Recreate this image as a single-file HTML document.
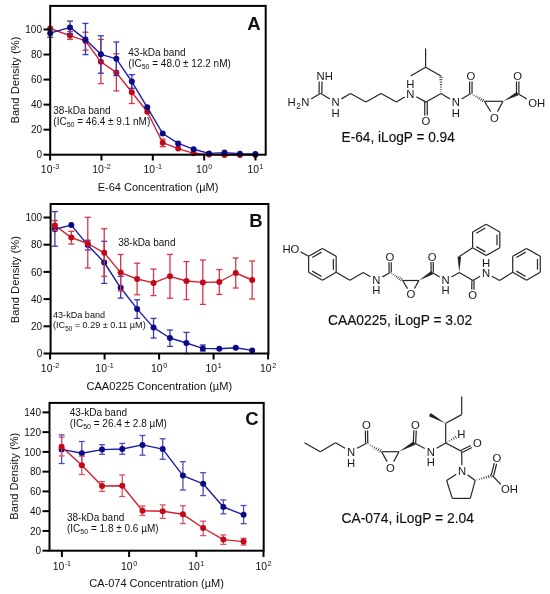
<!DOCTYPE html>
<html><head><meta charset="utf-8"><title>Figure</title>
<style>
html,body{margin:0;padding:0;background:#fff;}
svg{display:block;}
text{font-family:"Liberation Sans", Arial, sans-serif;fill:#111;}
.at{fill:#1a1a1a;}
.cap{font-size:13.8px;fill:#111;stroke:#111;stroke-width:0.15px;}
</style></head>
<body>
<svg width="550" height="594" viewBox="0 0 550 594">
<rect width="550" height="594" fill="#fff"/>
<g>
<line x1="70.00" y1="31.70" x2="70.00" y2="39.40" stroke="#d53846" stroke-width="1.3"/>
<line x1="67.00" y1="31.70" x2="73.00" y2="31.70" stroke="#d53846" stroke-width="1.3"/>
<line x1="67.00" y1="39.40" x2="73.00" y2="39.40" stroke="#d53846" stroke-width="1.3"/>
<line x1="85.45" y1="32.20" x2="85.45" y2="50.20" stroke="#d53846" stroke-width="1.3"/>
<line x1="82.45" y1="32.20" x2="88.45" y2="32.20" stroke="#d53846" stroke-width="1.3"/>
<line x1="82.45" y1="50.20" x2="88.45" y2="50.20" stroke="#d53846" stroke-width="1.3"/>
<line x1="100.90" y1="39.40" x2="100.90" y2="83.60" stroke="#d53846" stroke-width="1.3"/>
<line x1="97.90" y1="39.40" x2="103.90" y2="39.40" stroke="#d53846" stroke-width="1.3"/>
<line x1="97.90" y1="83.60" x2="103.90" y2="83.60" stroke="#d53846" stroke-width="1.3"/>
<line x1="116.35" y1="53.80" x2="116.35" y2="90.90" stroke="#d53846" stroke-width="1.3"/>
<line x1="113.35" y1="53.80" x2="119.35" y2="53.80" stroke="#d53846" stroke-width="1.3"/>
<line x1="113.35" y1="90.90" x2="119.35" y2="90.90" stroke="#d53846" stroke-width="1.3"/>
<line x1="131.80" y1="81.00" x2="131.80" y2="103.50" stroke="#d53846" stroke-width="1.3"/>
<line x1="128.80" y1="81.00" x2="134.80" y2="81.00" stroke="#d53846" stroke-width="1.3"/>
<line x1="128.80" y1="103.50" x2="134.80" y2="103.50" stroke="#d53846" stroke-width="1.3"/>
<line x1="162.70" y1="139.10" x2="162.70" y2="146.70" stroke="#d53846" stroke-width="1.3"/>
<line x1="159.70" y1="139.10" x2="165.70" y2="139.10" stroke="#d53846" stroke-width="1.3"/>
<line x1="159.70" y1="146.70" x2="165.70" y2="146.70" stroke="#d53846" stroke-width="1.3"/>
<polyline points="50.20,28.50 70.00,35.60 85.45,40.90 100.90,61.80 116.35,72.60 131.80,92.30 147.25,111.70 162.70,142.70 178.15,148.60 193.60,153.30 209.05,154.50 224.50,155.10 239.95,155.10 255.40,155.00" fill="none" stroke="#d42030" stroke-width="1.4" stroke-linejoin="round"/>
<circle cx="50.20" cy="28.50" r="3.0" fill="#c4081a"/>
<circle cx="70.00" cy="35.60" r="3.0" fill="#c4081a"/>
<circle cx="85.45" cy="40.90" r="3.0" fill="#c4081a"/>
<circle cx="100.90" cy="61.80" r="3.0" fill="#c4081a"/>
<circle cx="116.35" cy="72.60" r="3.0" fill="#c4081a"/>
<circle cx="131.80" cy="92.30" r="3.0" fill="#c4081a"/>
<circle cx="147.25" cy="111.70" r="3.0" fill="#c4081a"/>
<circle cx="162.70" cy="142.70" r="3.0" fill="#c4081a"/>
<circle cx="178.15" cy="148.60" r="3.0" fill="#c4081a"/>
<circle cx="193.60" cy="153.30" r="3.0" fill="#c4081a"/>
<circle cx="209.05" cy="154.50" r="3.0" fill="#c4081a"/>
<circle cx="224.50" cy="155.10" r="3.0" fill="#c4081a"/>
<circle cx="239.95" cy="155.10" r="3.0" fill="#c4081a"/>
<circle cx="255.40" cy="155.00" r="3.0" fill="#c4081a"/>
<line x1="50.20" y1="29.20" x2="50.20" y2="37.20" stroke="#3a3aac" stroke-width="1.3"/>
<line x1="47.20" y1="29.20" x2="53.20" y2="29.20" stroke="#3a3aac" stroke-width="1.3"/>
<line x1="47.20" y1="37.20" x2="53.20" y2="37.20" stroke="#3a3aac" stroke-width="1.3"/>
<line x1="70.00" y1="21.10" x2="70.00" y2="33.70" stroke="#3a3aac" stroke-width="1.3"/>
<line x1="67.00" y1="21.10" x2="73.00" y2="21.10" stroke="#3a3aac" stroke-width="1.3"/>
<line x1="67.00" y1="33.70" x2="73.00" y2="33.70" stroke="#3a3aac" stroke-width="1.3"/>
<line x1="85.45" y1="23.40" x2="85.45" y2="54.60" stroke="#3a3aac" stroke-width="1.3"/>
<line x1="82.45" y1="23.40" x2="88.45" y2="23.40" stroke="#3a3aac" stroke-width="1.3"/>
<line x1="82.45" y1="54.60" x2="88.45" y2="54.60" stroke="#3a3aac" stroke-width="1.3"/>
<line x1="100.90" y1="35.80" x2="100.90" y2="73.20" stroke="#3a3aac" stroke-width="1.3"/>
<line x1="97.90" y1="35.80" x2="103.90" y2="35.80" stroke="#3a3aac" stroke-width="1.3"/>
<line x1="97.90" y1="73.20" x2="103.90" y2="73.20" stroke="#3a3aac" stroke-width="1.3"/>
<line x1="116.35" y1="42.00" x2="116.35" y2="75.60" stroke="#3a3aac" stroke-width="1.3"/>
<line x1="113.35" y1="42.00" x2="119.35" y2="42.00" stroke="#3a3aac" stroke-width="1.3"/>
<line x1="113.35" y1="75.60" x2="119.35" y2="75.60" stroke="#3a3aac" stroke-width="1.3"/>
<line x1="131.80" y1="74.70" x2="131.80" y2="88.30" stroke="#3a3aac" stroke-width="1.3"/>
<line x1="128.80" y1="74.70" x2="134.80" y2="74.70" stroke="#3a3aac" stroke-width="1.3"/>
<line x1="128.80" y1="88.30" x2="134.80" y2="88.30" stroke="#3a3aac" stroke-width="1.3"/>
<polyline points="50.20,33.20 70.00,27.40 85.45,39.40 100.90,54.30 116.35,58.80 131.80,81.60 147.25,107.30 162.70,133.50 178.15,143.40 193.60,149.20 209.05,153.40 224.50,152.60 239.95,153.80 255.40,154.10" fill="none" stroke="#1c1ca6" stroke-width="1.4" stroke-linejoin="round"/>
<circle cx="50.20" cy="33.20" r="3.0" fill="#0a0a88"/>
<circle cx="70.00" cy="27.40" r="3.0" fill="#0a0a88"/>
<circle cx="85.45" cy="39.40" r="3.0" fill="#0a0a88"/>
<circle cx="100.90" cy="54.30" r="3.0" fill="#0a0a88"/>
<circle cx="116.35" cy="58.80" r="3.0" fill="#0a0a88"/>
<circle cx="131.80" cy="81.60" r="3.0" fill="#0a0a88"/>
<circle cx="147.25" cy="107.30" r="3.0" fill="#0a0a88"/>
<circle cx="162.70" cy="133.50" r="3.0" fill="#0a0a88"/>
<circle cx="178.15" cy="143.40" r="3.0" fill="#0a0a88"/>
<circle cx="193.60" cy="149.20" r="3.0" fill="#0a0a88"/>
<circle cx="209.05" cy="153.40" r="3.0" fill="#0a0a88"/>
<circle cx="224.50" cy="152.60" r="3.0" fill="#0a0a88"/>
<circle cx="239.95" cy="153.80" r="3.0" fill="#0a0a88"/>
<circle cx="255.40" cy="154.10" r="3.0" fill="#0a0a88"/>
<rect x="50.2" y="5.9" width="215.5" height="148.79999999999998" fill="none" stroke="#000" stroke-width="2"/>
<line x1="43.5" y1="154.70" x2="50.2" y2="154.70" stroke="#000" stroke-width="2"/>
<text x="42" y="158.30" text-anchor="end" font-size="10">0</text>
<line x1="43.5" y1="129.66" x2="50.2" y2="129.66" stroke="#000" stroke-width="2"/>
<text x="42" y="133.26" text-anchor="end" font-size="10">20</text>
<line x1="43.5" y1="104.62" x2="50.2" y2="104.62" stroke="#000" stroke-width="2"/>
<text x="42" y="108.22" text-anchor="end" font-size="10">40</text>
<line x1="43.5" y1="79.58" x2="50.2" y2="79.58" stroke="#000" stroke-width="2"/>
<text x="42" y="83.18" text-anchor="end" font-size="10">60</text>
<line x1="43.5" y1="54.54" x2="50.2" y2="54.54" stroke="#000" stroke-width="2"/>
<text x="42" y="58.14" text-anchor="end" font-size="10">80</text>
<line x1="43.5" y1="29.50" x2="50.2" y2="29.50" stroke="#000" stroke-width="2"/>
<text x="42" y="33.10" text-anchor="end" font-size="10">100</text>
<line x1="50.10" y1="154.7" x2="50.10" y2="160.5" stroke="#000" stroke-width="2"/>
<text x="50.10" y="173.3" text-anchor="middle" font-size="10.4">10<tspan font-size="7.2" dx="0.5" dy="-3.9">-3</tspan></text>
<line x1="101.45" y1="154.7" x2="101.45" y2="160.5" stroke="#000" stroke-width="2"/>
<text x="101.45" y="173.3" text-anchor="middle" font-size="10.4">10<tspan font-size="7.2" dx="0.5" dy="-3.9">-2</tspan></text>
<line x1="152.80" y1="154.7" x2="152.80" y2="160.5" stroke="#000" stroke-width="2"/>
<text x="152.80" y="173.3" text-anchor="middle" font-size="10.4">10<tspan font-size="7.2" dx="0.5" dy="-3.9">-1</tspan></text>
<line x1="204.15" y1="154.7" x2="204.15" y2="160.5" stroke="#000" stroke-width="2"/>
<text x="204.15" y="173.3" text-anchor="middle" font-size="10.4">10<tspan font-size="7.2" dx="0.5" dy="-3.9">0</tspan></text>
<line x1="255.50" y1="154.7" x2="255.50" y2="160.5" stroke="#000" stroke-width="2"/>
<text x="255.50" y="173.3" text-anchor="middle" font-size="10.4">10<tspan font-size="7.2" dx="0.5" dy="-3.9">1</tspan></text>
<text transform="translate(19.3,80.05) rotate(-90)" text-anchor="middle" font-size="11.2">Band Density (%)</text>
<text x="158" y="190.8" text-anchor="middle" font-size="11">E-64 Concentration (µM)</text>
<text x="254" y="29.5" text-anchor="middle" font-size="18.5" font-weight="bold">A</text>
<text x="128.3" y="55.7" font-size="10.0">43-kDa band</text><text x="128.3" y="66.5" font-size="10.0">(IC<tspan font-size="7.00" dy="2.2">50</tspan><tspan dy="-2.2"> = 48.0 ± 12.2 nM)</tspan></text>
<text x="53.3" y="114.2" font-size="10.0">38-kDa band</text><text x="53.3" y="125.0" font-size="10.0">(IC<tspan font-size="7.00" dy="2.2">50</tspan><tspan dy="-2.2"> = 46.4 ± 9.1 nM)</tspan></text>
</g>
<g>
<line x1="54.90" y1="211.60" x2="54.90" y2="246.20" stroke="#3a3aac" stroke-width="1.3"/>
<line x1="51.90" y1="211.60" x2="57.90" y2="211.60" stroke="#3a3aac" stroke-width="1.3"/>
<line x1="51.90" y1="246.20" x2="57.90" y2="246.20" stroke="#3a3aac" stroke-width="1.3"/>
<line x1="87.78" y1="240.20" x2="87.78" y2="250.00" stroke="#3a3aac" stroke-width="1.3"/>
<line x1="84.78" y1="240.20" x2="90.78" y2="240.20" stroke="#3a3aac" stroke-width="1.3"/>
<line x1="84.78" y1="250.00" x2="90.78" y2="250.00" stroke="#3a3aac" stroke-width="1.3"/>
<line x1="104.22" y1="241.30" x2="104.22" y2="283.40" stroke="#3a3aac" stroke-width="1.3"/>
<line x1="101.22" y1="241.30" x2="107.22" y2="241.30" stroke="#3a3aac" stroke-width="1.3"/>
<line x1="101.22" y1="283.40" x2="107.22" y2="283.40" stroke="#3a3aac" stroke-width="1.3"/>
<line x1="120.66" y1="276.30" x2="120.66" y2="298.10" stroke="#3a3aac" stroke-width="1.3"/>
<line x1="117.66" y1="276.30" x2="123.66" y2="276.30" stroke="#3a3aac" stroke-width="1.3"/>
<line x1="117.66" y1="298.10" x2="123.66" y2="298.10" stroke="#3a3aac" stroke-width="1.3"/>
<line x1="137.10" y1="299.80" x2="137.10" y2="318.40" stroke="#3a3aac" stroke-width="1.3"/>
<line x1="134.10" y1="299.80" x2="140.10" y2="299.80" stroke="#3a3aac" stroke-width="1.3"/>
<line x1="134.10" y1="318.40" x2="140.10" y2="318.40" stroke="#3a3aac" stroke-width="1.3"/>
<line x1="153.54" y1="318.40" x2="153.54" y2="338.00" stroke="#3a3aac" stroke-width="1.3"/>
<line x1="150.54" y1="318.40" x2="156.54" y2="318.40" stroke="#3a3aac" stroke-width="1.3"/>
<line x1="150.54" y1="338.00" x2="156.54" y2="338.00" stroke="#3a3aac" stroke-width="1.3"/>
<line x1="169.98" y1="330.00" x2="169.98" y2="346.40" stroke="#3a3aac" stroke-width="1.3"/>
<line x1="166.98" y1="330.00" x2="172.98" y2="330.00" stroke="#3a3aac" stroke-width="1.3"/>
<line x1="166.98" y1="346.40" x2="172.98" y2="346.40" stroke="#3a3aac" stroke-width="1.3"/>
<line x1="186.42" y1="332.40" x2="186.42" y2="353.60" stroke="#3a3aac" stroke-width="1.3"/>
<line x1="183.42" y1="332.40" x2="189.42" y2="332.40" stroke="#3a3aac" stroke-width="1.3"/>
<line x1="183.42" y1="353.60" x2="189.42" y2="353.60" stroke="#3a3aac" stroke-width="1.3"/>
<line x1="202.86" y1="345.00" x2="202.86" y2="351.00" stroke="#3a3aac" stroke-width="1.3"/>
<line x1="199.86" y1="345.00" x2="205.86" y2="345.00" stroke="#3a3aac" stroke-width="1.3"/>
<line x1="199.86" y1="351.00" x2="205.86" y2="351.00" stroke="#3a3aac" stroke-width="1.3"/>
<polyline points="54.90,229.20 71.34,225.10 87.78,245.10 104.22,262.50 120.66,287.80 137.10,308.90 153.54,327.60 169.98,338.00 186.42,343.00 202.86,348.40 219.30,348.80 235.74,347.70 252.18,350.40" fill="none" stroke="#1c1ca6" stroke-width="1.4" stroke-linejoin="round"/>
<circle cx="54.90" cy="229.20" r="3.0" fill="#0a0a88"/>
<circle cx="71.34" cy="225.10" r="3.0" fill="#0a0a88"/>
<circle cx="87.78" cy="245.10" r="3.0" fill="#0a0a88"/>
<circle cx="104.22" cy="262.50" r="3.0" fill="#0a0a88"/>
<circle cx="120.66" cy="287.80" r="3.0" fill="#0a0a88"/>
<circle cx="137.10" cy="308.90" r="3.0" fill="#0a0a88"/>
<circle cx="153.54" cy="327.60" r="3.0" fill="#0a0a88"/>
<circle cx="169.98" cy="338.00" r="3.0" fill="#0a0a88"/>
<circle cx="186.42" cy="343.00" r="3.0" fill="#0a0a88"/>
<circle cx="202.86" cy="348.40" r="3.0" fill="#0a0a88"/>
<circle cx="219.30" cy="348.80" r="3.0" fill="#0a0a88"/>
<circle cx="235.74" cy="347.70" r="3.0" fill="#0a0a88"/>
<circle cx="252.18" cy="350.40" r="3.0" fill="#0a0a88"/>
<line x1="54.90" y1="220.50" x2="54.90" y2="230.50" stroke="#d53846" stroke-width="1.3"/>
<line x1="51.90" y1="220.50" x2="57.90" y2="220.50" stroke="#d53846" stroke-width="1.3"/>
<line x1="51.90" y1="230.50" x2="57.90" y2="230.50" stroke="#d53846" stroke-width="1.3"/>
<line x1="71.34" y1="231.30" x2="71.34" y2="244.00" stroke="#d53846" stroke-width="1.3"/>
<line x1="68.34" y1="231.30" x2="74.34" y2="231.30" stroke="#d53846" stroke-width="1.3"/>
<line x1="68.34" y1="244.00" x2="74.34" y2="244.00" stroke="#d53846" stroke-width="1.3"/>
<line x1="87.78" y1="217.30" x2="87.78" y2="268.00" stroke="#d53846" stroke-width="1.3"/>
<line x1="84.78" y1="217.30" x2="90.78" y2="217.30" stroke="#d53846" stroke-width="1.3"/>
<line x1="84.78" y1="268.00" x2="90.78" y2="268.00" stroke="#d53846" stroke-width="1.3"/>
<line x1="104.22" y1="228.70" x2="104.22" y2="276.30" stroke="#d53846" stroke-width="1.3"/>
<line x1="101.22" y1="228.70" x2="107.22" y2="228.70" stroke="#d53846" stroke-width="1.3"/>
<line x1="101.22" y1="276.30" x2="107.22" y2="276.30" stroke="#d53846" stroke-width="1.3"/>
<line x1="120.66" y1="254.50" x2="120.66" y2="291.00" stroke="#d53846" stroke-width="1.3"/>
<line x1="117.66" y1="254.50" x2="123.66" y2="254.50" stroke="#d53846" stroke-width="1.3"/>
<line x1="117.66" y1="291.00" x2="123.66" y2="291.00" stroke="#d53846" stroke-width="1.3"/>
<line x1="137.10" y1="263.20" x2="137.10" y2="294.80" stroke="#d53846" stroke-width="1.3"/>
<line x1="134.10" y1="263.20" x2="140.10" y2="263.20" stroke="#d53846" stroke-width="1.3"/>
<line x1="134.10" y1="294.80" x2="140.10" y2="294.80" stroke="#d53846" stroke-width="1.3"/>
<line x1="153.54" y1="269.10" x2="153.54" y2="295.60" stroke="#d53846" stroke-width="1.3"/>
<line x1="150.54" y1="269.10" x2="156.54" y2="269.10" stroke="#d53846" stroke-width="1.3"/>
<line x1="150.54" y1="295.60" x2="156.54" y2="295.60" stroke="#d53846" stroke-width="1.3"/>
<line x1="169.98" y1="254.40" x2="169.98" y2="298.20" stroke="#d53846" stroke-width="1.3"/>
<line x1="166.98" y1="254.40" x2="172.98" y2="254.40" stroke="#d53846" stroke-width="1.3"/>
<line x1="166.98" y1="298.20" x2="172.98" y2="298.20" stroke="#d53846" stroke-width="1.3"/>
<line x1="186.42" y1="261.60" x2="186.42" y2="299.60" stroke="#d53846" stroke-width="1.3"/>
<line x1="183.42" y1="261.60" x2="189.42" y2="261.60" stroke="#d53846" stroke-width="1.3"/>
<line x1="183.42" y1="299.60" x2="189.42" y2="299.60" stroke="#d53846" stroke-width="1.3"/>
<line x1="202.86" y1="260.00" x2="202.86" y2="304.40" stroke="#d53846" stroke-width="1.3"/>
<line x1="199.86" y1="260.00" x2="205.86" y2="260.00" stroke="#d53846" stroke-width="1.3"/>
<line x1="199.86" y1="304.40" x2="205.86" y2="304.40" stroke="#d53846" stroke-width="1.3"/>
<line x1="219.30" y1="269.60" x2="219.30" y2="294.40" stroke="#d53846" stroke-width="1.3"/>
<line x1="216.30" y1="269.60" x2="222.30" y2="269.60" stroke="#d53846" stroke-width="1.3"/>
<line x1="216.30" y1="294.40" x2="222.30" y2="294.40" stroke="#d53846" stroke-width="1.3"/>
<line x1="235.74" y1="258.00" x2="235.74" y2="288.00" stroke="#d53846" stroke-width="1.3"/>
<line x1="232.74" y1="258.00" x2="238.74" y2="258.00" stroke="#d53846" stroke-width="1.3"/>
<line x1="232.74" y1="288.00" x2="238.74" y2="288.00" stroke="#d53846" stroke-width="1.3"/>
<line x1="252.18" y1="261.00" x2="252.18" y2="299.00" stroke="#d53846" stroke-width="1.3"/>
<line x1="249.18" y1="261.00" x2="255.18" y2="261.00" stroke="#d53846" stroke-width="1.3"/>
<line x1="249.18" y1="299.00" x2="255.18" y2="299.00" stroke="#d53846" stroke-width="1.3"/>
<polyline points="54.90,225.50 71.34,237.60 87.78,243.50 104.22,252.80 120.66,272.60 137.10,279.00 153.54,282.90 169.98,276.30 186.42,281.00 202.86,282.40 219.30,282.00 235.74,273.00 252.18,280.00" fill="none" stroke="#d42030" stroke-width="1.4" stroke-linejoin="round"/>
<circle cx="54.90" cy="225.50" r="3.0" fill="#c4081a"/>
<circle cx="71.34" cy="237.60" r="3.0" fill="#c4081a"/>
<circle cx="87.78" cy="243.50" r="3.0" fill="#c4081a"/>
<circle cx="104.22" cy="252.80" r="3.0" fill="#c4081a"/>
<circle cx="120.66" cy="272.60" r="3.0" fill="#c4081a"/>
<circle cx="137.10" cy="279.00" r="3.0" fill="#c4081a"/>
<circle cx="153.54" cy="282.90" r="3.0" fill="#c4081a"/>
<circle cx="169.98" cy="276.30" r="3.0" fill="#c4081a"/>
<circle cx="186.42" cy="281.00" r="3.0" fill="#c4081a"/>
<circle cx="202.86" cy="282.40" r="3.0" fill="#c4081a"/>
<circle cx="219.30" cy="282.00" r="3.0" fill="#c4081a"/>
<circle cx="235.74" cy="273.00" r="3.0" fill="#c4081a"/>
<circle cx="252.18" cy="280.00" r="3.0" fill="#c4081a"/>
<rect x="50.6" y="204" width="217.79999999999998" height="149.5" fill="none" stroke="#000" stroke-width="2"/>
<line x1="43.5" y1="353.50" x2="50.6" y2="353.50" stroke="#000" stroke-width="2"/>
<text x="42.2" y="357.10" text-anchor="end" font-size="10">0</text>
<line x1="43.5" y1="326.30" x2="50.6" y2="326.30" stroke="#000" stroke-width="2"/>
<text x="42.2" y="329.90" text-anchor="end" font-size="10">20</text>
<line x1="43.5" y1="299.10" x2="50.6" y2="299.10" stroke="#000" stroke-width="2"/>
<text x="42.2" y="302.70" text-anchor="end" font-size="10">40</text>
<line x1="43.5" y1="271.90" x2="50.6" y2="271.90" stroke="#000" stroke-width="2"/>
<text x="42.2" y="275.50" text-anchor="end" font-size="10">60</text>
<line x1="43.5" y1="244.70" x2="50.6" y2="244.70" stroke="#000" stroke-width="2"/>
<text x="42.2" y="248.30" text-anchor="end" font-size="10">80</text>
<line x1="43.5" y1="217.50" x2="50.6" y2="217.50" stroke="#000" stroke-width="2"/>
<text x="42.2" y="221.10" text-anchor="end" font-size="10">100</text>
<line x1="50.10" y1="353.5" x2="50.10" y2="359.5" stroke="#000" stroke-width="2"/>
<text x="50.10" y="371.8" text-anchor="middle" font-size="10.4">10<tspan font-size="7.2" dx="0.5" dy="-3.9">-2</tspan></text>
<line x1="104.60" y1="353.5" x2="104.60" y2="359.5" stroke="#000" stroke-width="2"/>
<text x="104.60" y="371.8" text-anchor="middle" font-size="10.4">10<tspan font-size="7.2" dx="0.5" dy="-3.9">-1</tspan></text>
<line x1="159.10" y1="353.5" x2="159.10" y2="359.5" stroke="#000" stroke-width="2"/>
<text x="159.10" y="371.8" text-anchor="middle" font-size="10.4">10<tspan font-size="7.2" dx="0.5" dy="-3.9">0</tspan></text>
<line x1="213.60" y1="353.5" x2="213.60" y2="359.5" stroke="#000" stroke-width="2"/>
<text x="213.60" y="371.8" text-anchor="middle" font-size="10.4">10<tspan font-size="7.2" dx="0.5" dy="-3.9">1</tspan></text>
<line x1="268.10" y1="353.5" x2="268.10" y2="359.5" stroke="#000" stroke-width="2"/>
<text x="268.10" y="371.8" text-anchor="middle" font-size="10.4">10<tspan font-size="7.2" dx="0.5" dy="-3.9">2</tspan></text>
<text transform="translate(19.0,279.6) rotate(-90)" text-anchor="middle" font-size="11.2">Band Density (%)</text>
<text x="159.3" y="389.7" text-anchor="middle" font-size="11.1">CAA0225 Concentration (µM)</text>
<text x="256" y="227" text-anchor="middle" font-size="18.5" font-weight="bold">B</text>
<text x="118.2" y="245.7" font-size="10">38-kDa band</text>
<text x="53" y="318" font-size="9.1">43-kDa band</text><text x="53" y="328.4" font-size="9.1">(IC<tspan font-size="6.37" dy="2.2">50</tspan><tspan dy="-2.2"> = 0.29 ± 0.11 µM)</tspan></text>
</g>
<g>
<line x1="61.60" y1="434.90" x2="61.60" y2="463.50" stroke="#4e4eb4" stroke-width="1.3"/>
<line x1="58.60" y1="434.90" x2="64.60" y2="434.90" stroke="#4e4eb4" stroke-width="1.3"/>
<line x1="58.60" y1="463.50" x2="64.60" y2="463.50" stroke="#4e4eb4" stroke-width="1.3"/>
<line x1="81.82" y1="441.50" x2="81.82" y2="465.00" stroke="#4e4eb4" stroke-width="1.3"/>
<line x1="78.82" y1="441.50" x2="84.82" y2="441.50" stroke="#4e4eb4" stroke-width="1.3"/>
<line x1="78.82" y1="465.00" x2="84.82" y2="465.00" stroke="#4e4eb4" stroke-width="1.3"/>
<line x1="102.04" y1="444.70" x2="102.04" y2="454.30" stroke="#4e4eb4" stroke-width="1.3"/>
<line x1="99.04" y1="444.70" x2="105.04" y2="444.70" stroke="#4e4eb4" stroke-width="1.3"/>
<line x1="99.04" y1="454.30" x2="105.04" y2="454.30" stroke="#4e4eb4" stroke-width="1.3"/>
<line x1="122.26" y1="443.40" x2="122.26" y2="454.30" stroke="#4e4eb4" stroke-width="1.3"/>
<line x1="119.26" y1="443.40" x2="125.26" y2="443.40" stroke="#4e4eb4" stroke-width="1.3"/>
<line x1="119.26" y1="454.30" x2="125.26" y2="454.30" stroke="#4e4eb4" stroke-width="1.3"/>
<line x1="142.48" y1="435.50" x2="142.48" y2="455.20" stroke="#4e4eb4" stroke-width="1.3"/>
<line x1="139.48" y1="435.50" x2="145.48" y2="435.50" stroke="#4e4eb4" stroke-width="1.3"/>
<line x1="139.48" y1="455.20" x2="145.48" y2="455.20" stroke="#4e4eb4" stroke-width="1.3"/>
<line x1="162.70" y1="438.80" x2="162.70" y2="459.30" stroke="#4e4eb4" stroke-width="1.3"/>
<line x1="159.70" y1="438.80" x2="165.70" y2="438.80" stroke="#4e4eb4" stroke-width="1.3"/>
<line x1="159.70" y1="459.30" x2="165.70" y2="459.30" stroke="#4e4eb4" stroke-width="1.3"/>
<line x1="182.92" y1="461.70" x2="182.92" y2="490.00" stroke="#4e4eb4" stroke-width="1.3"/>
<line x1="179.92" y1="461.70" x2="185.92" y2="461.70" stroke="#4e4eb4" stroke-width="1.3"/>
<line x1="179.92" y1="490.00" x2="185.92" y2="490.00" stroke="#4e4eb4" stroke-width="1.3"/>
<line x1="203.14" y1="472.70" x2="203.14" y2="495.60" stroke="#4e4eb4" stroke-width="1.3"/>
<line x1="200.14" y1="472.70" x2="206.14" y2="472.70" stroke="#4e4eb4" stroke-width="1.3"/>
<line x1="200.14" y1="495.60" x2="206.14" y2="495.60" stroke="#4e4eb4" stroke-width="1.3"/>
<line x1="223.36" y1="499.90" x2="223.36" y2="513.80" stroke="#4e4eb4" stroke-width="1.3"/>
<line x1="220.36" y1="499.90" x2="226.36" y2="499.90" stroke="#4e4eb4" stroke-width="1.3"/>
<line x1="220.36" y1="513.80" x2="226.36" y2="513.80" stroke="#4e4eb4" stroke-width="1.3"/>
<line x1="243.58" y1="505.50" x2="243.58" y2="523.70" stroke="#4e4eb4" stroke-width="1.3"/>
<line x1="240.58" y1="505.50" x2="246.58" y2="505.50" stroke="#4e4eb4" stroke-width="1.3"/>
<line x1="240.58" y1="523.70" x2="246.58" y2="523.70" stroke="#4e4eb4" stroke-width="1.3"/>
<polyline points="61.60,449.40 81.82,453.20 102.04,449.60 122.26,449.00 142.48,444.90 162.70,449.10 182.92,475.60 203.14,483.80 223.36,507.00 243.58,514.80" fill="none" stroke="#1c1ca6" stroke-width="1.4" stroke-linejoin="round"/>
<circle cx="61.60" cy="449.40" r="3.0" fill="#0a0a88"/>
<circle cx="81.82" cy="453.20" r="3.0" fill="#0a0a88"/>
<circle cx="102.04" cy="449.60" r="3.0" fill="#0a0a88"/>
<circle cx="122.26" cy="449.00" r="3.0" fill="#0a0a88"/>
<circle cx="142.48" cy="444.90" r="3.0" fill="#0a0a88"/>
<circle cx="162.70" cy="449.10" r="3.0" fill="#0a0a88"/>
<circle cx="182.92" cy="475.60" r="3.0" fill="#0a0a88"/>
<circle cx="203.14" cy="483.80" r="3.0" fill="#0a0a88"/>
<circle cx="223.36" cy="507.00" r="3.0" fill="#0a0a88"/>
<circle cx="243.58" cy="514.80" r="3.0" fill="#0a0a88"/>
<line x1="61.60" y1="437.20" x2="61.60" y2="455.90" stroke="#da5260" stroke-width="1.3"/>
<line x1="58.60" y1="437.20" x2="64.60" y2="437.20" stroke="#da5260" stroke-width="1.3"/>
<line x1="58.60" y1="455.90" x2="64.60" y2="455.90" stroke="#da5260" stroke-width="1.3"/>
<line x1="81.82" y1="456.20" x2="81.82" y2="474.50" stroke="#da5260" stroke-width="1.3"/>
<line x1="78.82" y1="456.20" x2="84.82" y2="456.20" stroke="#da5260" stroke-width="1.3"/>
<line x1="78.82" y1="474.50" x2="84.82" y2="474.50" stroke="#da5260" stroke-width="1.3"/>
<line x1="102.04" y1="481.60" x2="102.04" y2="491.40" stroke="#da5260" stroke-width="1.3"/>
<line x1="99.04" y1="481.60" x2="105.04" y2="481.60" stroke="#da5260" stroke-width="1.3"/>
<line x1="99.04" y1="491.40" x2="105.04" y2="491.40" stroke="#da5260" stroke-width="1.3"/>
<line x1="122.26" y1="474.90" x2="122.26" y2="496.50" stroke="#da5260" stroke-width="1.3"/>
<line x1="119.26" y1="474.90" x2="125.26" y2="474.90" stroke="#da5260" stroke-width="1.3"/>
<line x1="119.26" y1="496.50" x2="125.26" y2="496.50" stroke="#da5260" stroke-width="1.3"/>
<line x1="142.48" y1="506.00" x2="142.48" y2="515.50" stroke="#da5260" stroke-width="1.3"/>
<line x1="139.48" y1="506.00" x2="145.48" y2="506.00" stroke="#da5260" stroke-width="1.3"/>
<line x1="139.48" y1="515.50" x2="145.48" y2="515.50" stroke="#da5260" stroke-width="1.3"/>
<line x1="162.70" y1="504.90" x2="162.70" y2="518.40" stroke="#da5260" stroke-width="1.3"/>
<line x1="159.70" y1="504.90" x2="165.70" y2="504.90" stroke="#da5260" stroke-width="1.3"/>
<line x1="159.70" y1="518.40" x2="165.70" y2="518.40" stroke="#da5260" stroke-width="1.3"/>
<line x1="182.92" y1="505.80" x2="182.92" y2="523.60" stroke="#da5260" stroke-width="1.3"/>
<line x1="179.92" y1="505.80" x2="185.92" y2="505.80" stroke="#da5260" stroke-width="1.3"/>
<line x1="179.92" y1="523.60" x2="185.92" y2="523.60" stroke="#da5260" stroke-width="1.3"/>
<line x1="203.14" y1="521.20" x2="203.14" y2="535.60" stroke="#da5260" stroke-width="1.3"/>
<line x1="200.14" y1="521.20" x2="206.14" y2="521.20" stroke="#da5260" stroke-width="1.3"/>
<line x1="200.14" y1="535.60" x2="206.14" y2="535.60" stroke="#da5260" stroke-width="1.3"/>
<line x1="223.36" y1="534.90" x2="223.36" y2="544.40" stroke="#da5260" stroke-width="1.3"/>
<line x1="220.36" y1="534.90" x2="226.36" y2="534.90" stroke="#da5260" stroke-width="1.3"/>
<line x1="220.36" y1="544.40" x2="226.36" y2="544.40" stroke="#da5260" stroke-width="1.3"/>
<line x1="243.58" y1="538.30" x2="243.58" y2="545.00" stroke="#da5260" stroke-width="1.3"/>
<line x1="240.58" y1="538.30" x2="246.58" y2="538.30" stroke="#da5260" stroke-width="1.3"/>
<line x1="240.58" y1="545.00" x2="246.58" y2="545.00" stroke="#da5260" stroke-width="1.3"/>
<polyline points="61.60,446.70 81.82,465.20 102.04,486.00 122.26,485.70 142.48,510.80 162.70,511.30 182.92,514.30 203.14,528.00 223.36,539.60 243.58,541.60" fill="none" stroke="#d42030" stroke-width="1.4" stroke-linejoin="round"/>
<circle cx="61.60" cy="446.70" r="3.0" fill="#c4081a"/>
<circle cx="81.82" cy="465.20" r="3.0" fill="#c4081a"/>
<circle cx="102.04" cy="486.00" r="3.0" fill="#c4081a"/>
<circle cx="122.26" cy="485.70" r="3.0" fill="#c4081a"/>
<circle cx="142.48" cy="510.80" r="3.0" fill="#c4081a"/>
<circle cx="162.70" cy="511.30" r="3.0" fill="#c4081a"/>
<circle cx="182.92" cy="514.30" r="3.0" fill="#c4081a"/>
<circle cx="203.14" cy="528.00" r="3.0" fill="#c4081a"/>
<circle cx="223.36" cy="539.60" r="3.0" fill="#c4081a"/>
<circle cx="243.58" cy="541.60" r="3.0" fill="#c4081a"/>
<rect x="49.5" y="402.9" width="214.2" height="147.80000000000007" fill="none" stroke="#000" stroke-width="2"/>
<line x1="42.5" y1="550.70" x2="49.5" y2="550.70" stroke="#000" stroke-width="2"/>
<text x="41" y="554.30" text-anchor="end" font-size="10">0</text>
<line x1="42.5" y1="530.94" x2="49.5" y2="530.94" stroke="#000" stroke-width="2"/>
<text x="41" y="534.54" text-anchor="end" font-size="10">20</text>
<line x1="42.5" y1="511.18" x2="49.5" y2="511.18" stroke="#000" stroke-width="2"/>
<text x="41" y="514.78" text-anchor="end" font-size="10">40</text>
<line x1="42.5" y1="491.42" x2="49.5" y2="491.42" stroke="#000" stroke-width="2"/>
<text x="41" y="495.02" text-anchor="end" font-size="10">60</text>
<line x1="42.5" y1="471.66" x2="49.5" y2="471.66" stroke="#000" stroke-width="2"/>
<text x="41" y="475.26" text-anchor="end" font-size="10">80</text>
<line x1="42.5" y1="451.90" x2="49.5" y2="451.90" stroke="#000" stroke-width="2"/>
<text x="41" y="455.50" text-anchor="end" font-size="10">100</text>
<line x1="42.5" y1="432.14" x2="49.5" y2="432.14" stroke="#000" stroke-width="2"/>
<text x="41" y="435.74" text-anchor="end" font-size="10">120</text>
<line x1="42.5" y1="412.38" x2="49.5" y2="412.38" stroke="#000" stroke-width="2"/>
<text x="41" y="415.98" text-anchor="end" font-size="10">140</text>
<line x1="61.90" y1="550.7" x2="61.90" y2="557" stroke="#000" stroke-width="2"/>
<text x="61.90" y="569.5" text-anchor="middle" font-size="10.4">10<tspan font-size="7.2" dx="0.5" dy="-3.9">-1</tspan></text>
<line x1="129.10" y1="550.7" x2="129.10" y2="557" stroke="#000" stroke-width="2"/>
<text x="129.10" y="569.5" text-anchor="middle" font-size="10.4">10<tspan font-size="7.2" dx="0.5" dy="-3.9">0</tspan></text>
<line x1="196.30" y1="550.7" x2="196.30" y2="557" stroke="#000" stroke-width="2"/>
<text x="196.30" y="569.5" text-anchor="middle" font-size="10.4">10<tspan font-size="7.2" dx="0.5" dy="-3.9">1</tspan></text>
<line x1="263.50" y1="550.7" x2="263.50" y2="557" stroke="#000" stroke-width="2"/>
<text x="263.50" y="569.5" text-anchor="middle" font-size="10.4">10<tspan font-size="7.2" dx="0.5" dy="-3.9">2</tspan></text>
<text transform="translate(18.0,476.2) rotate(-90)" text-anchor="middle" font-size="11.2">Band Density (%)</text>
<text x="156.6" y="587" text-anchor="middle" font-size="11">CA-074 Concentration (µM)</text>
<text x="252" y="424.8" text-anchor="middle" font-size="18.5" font-weight="bold">C</text>
<text x="69.8" y="416.3" font-size="10.0">43-kDa band</text><text x="69.8" y="427.1" font-size="10.0">(IC<tspan font-size="7.00" dy="2.2">50</tspan><tspan dy="-2.2"> = 26.4 ± 2.8 µM)</tspan></text>
<text x="67" y="520.7" font-size="10.0">38-kDa band</text><text x="67" y="531.5" font-size="10.0">(IC<tspan font-size="7.00" dy="2.2">50</tspan><tspan dy="-2.2"> = 1.8 ± 0.6 µM)</tspan></text>
</g>
<line x1="320.50" y1="93.30" x2="311.22" y2="98.89" stroke="#262626" stroke-width="1.2" stroke-linecap="butt"/>
<line x1="321.90" y1="93.31" x2="321.97" y2="81.61" stroke="#262626" stroke-width="1.2" stroke-linecap="butt"/><line x1="319.10" y1="93.29" x2="319.17" y2="81.59" stroke="#262626" stroke-width="1.2" stroke-linecap="butt"/>
<line x1="320.50" y1="93.30" x2="329.78" y2="98.89" stroke="#262626" stroke-width="1.2" stroke-linecap="butt"/>
<line x1="341.42" y1="98.88" x2="350.50" y2="93.40" stroke="#262626" stroke-width="1.2" stroke-linecap="butt"/>
<line x1="350.50" y1="93.40" x2="365.80" y2="102.10" stroke="#262626" stroke-width="1.2" stroke-linecap="butt"/>
<line x1="365.80" y1="102.10" x2="381.10" y2="93.40" stroke="#262626" stroke-width="1.2" stroke-linecap="butt"/>
<line x1="381.10" y1="93.40" x2="396.40" y2="102.10" stroke="#262626" stroke-width="1.2" stroke-linecap="butt"/>
<line x1="396.40" y1="102.10" x2="404.61" y2="97.06" stroke="#262626" stroke-width="1.2" stroke-linecap="butt"/>
<line x1="416.36" y1="96.78" x2="426.00" y2="102.10" stroke="#262626" stroke-width="1.2" stroke-linecap="butt"/>
<line x1="424.75" y1="102.10" x2="424.75" y2="115.40" stroke="#262626" stroke-width="1.2" stroke-linecap="butt"/><line x1="427.25" y1="102.10" x2="427.25" y2="115.40" stroke="#262626" stroke-width="1.2" stroke-linecap="butt"/>
<line x1="426.00" y1="102.10" x2="441.00" y2="93.60" stroke="#262626" stroke-width="1.2" stroke-linecap="butt"/>
<line x1="440.63" y1="91.88" x2="441.37" y2="91.88" stroke="#262626" stroke-width="0.9" stroke-linecap="butt"/><line x1="440.40" y1="89.44" x2="441.60" y2="89.44" stroke="#262626" stroke-width="0.9" stroke-linecap="butt"/><line x1="440.16" y1="86.99" x2="441.84" y2="86.99" stroke="#262626" stroke-width="0.9" stroke-linecap="butt"/><line x1="439.93" y1="84.55" x2="442.07" y2="84.55" stroke="#262626" stroke-width="0.9" stroke-linecap="butt"/><line x1="439.69" y1="82.11" x2="442.31" y2="82.11" stroke="#262626" stroke-width="0.9" stroke-linecap="butt"/><line x1="439.45" y1="79.66" x2="442.55" y2="79.66" stroke="#262626" stroke-width="0.9" stroke-linecap="butt"/><line x1="439.22" y1="77.22" x2="442.78" y2="77.22" stroke="#262626" stroke-width="0.9" stroke-linecap="butt"/>
<line x1="441.00" y1="76.00" x2="425.60" y2="67.20" stroke="#262626" stroke-width="1.2" stroke-linecap="butt"/>
<line x1="425.60" y1="67.20" x2="425.60" y2="48.60" stroke="#262626" stroke-width="1.2" stroke-linecap="butt"/>
<line x1="425.60" y1="67.20" x2="410.60" y2="75.90" stroke="#262626" stroke-width="1.2" stroke-linecap="butt"/>
<line x1="441.00" y1="93.60" x2="449.96" y2="98.92" stroke="#262626" stroke-width="1.2" stroke-linecap="butt"/>
<line x1="461.65" y1="98.93" x2="470.80" y2="93.50" stroke="#262626" stroke-width="1.2" stroke-linecap="butt"/>
<line x1="472.00" y1="93.51" x2="472.07" y2="81.41" stroke="#262626" stroke-width="1.2" stroke-linecap="butt"/><line x1="469.60" y1="93.49" x2="469.67" y2="81.39" stroke="#262626" stroke-width="1.2" stroke-linecap="butt"/>
<line x1="472.56" y1="94.09" x2="472.20" y2="94.72" stroke="#262626" stroke-width="0.9" stroke-linecap="butt"/><line x1="474.45" y1="94.90" x2="473.85" y2="95.94" stroke="#262626" stroke-width="0.9" stroke-linecap="butt"/><line x1="476.33" y1="95.71" x2="475.50" y2="97.16" stroke="#262626" stroke-width="0.9" stroke-linecap="butt"/><line x1="478.22" y1="96.52" x2="477.15" y2="98.38" stroke="#262626" stroke-width="0.9" stroke-linecap="butt"/><line x1="480.11" y1="97.33" x2="478.80" y2="99.60" stroke="#262626" stroke-width="0.9" stroke-linecap="butt"/><line x1="481.99" y1="98.14" x2="480.46" y2="100.82" stroke="#262626" stroke-width="0.9" stroke-linecap="butt"/><line x1="483.88" y1="98.95" x2="482.11" y2="102.04" stroke="#262626" stroke-width="0.9" stroke-linecap="butt"/>
<line x1="484.40" y1="101.30" x2="503.00" y2="101.30" stroke="#262626" stroke-width="1.2" stroke-linecap="butt"/>
<line x1="484.40" y1="101.30" x2="490.77" y2="111.79" stroke="#262626" stroke-width="1.2" stroke-linecap="butt"/>
<line x1="503.00" y1="101.30" x2="497.50" y2="111.60" stroke="#262626" stroke-width="1.2" stroke-linecap="butt"/>
<polygon points="503.27,101.16 518.59,95.18 516.81,91.82" fill="#262626"/>
<line x1="518.90" y1="93.50" x2="518.90" y2="81.40" stroke="#262626" stroke-width="1.2" stroke-linecap="butt"/><line x1="516.50" y1="93.50" x2="516.50" y2="81.40" stroke="#262626" stroke-width="1.2" stroke-linecap="butt"/>
<line x1="517.70" y1="93.50" x2="526.80" y2="99.06" stroke="#262626" stroke-width="1.2" stroke-linecap="butt"/>
<text x="309.48" y="106.45" text-anchor="end" font-size="11.3" class="at">H<tspan font-size="8.14" dx="0.5" dy="2.6">2</tspan><tspan dx="0.5" dy="-2.6">N</tspan></text>
<text x="316.52" y="79.65" font-size="11.3" class="at">NH</text>
<text x="335.60" y="106.45" text-anchor="middle" font-size="11.3" class="at">N</text>
<text x="335.60" y="117.35" text-anchor="middle" font-size="11.3" class="at">H</text>
<text x="410.40" y="97.55" text-anchor="middle" font-size="11.3" class="at">N</text>
<text x="410.40" y="87.65" text-anchor="middle" font-size="11.3" class="at">H</text>
<text x="426.00" y="124.85" text-anchor="middle" font-size="11.3" class="at">O</text>
<text x="455.80" y="106.45" text-anchor="middle" font-size="11.3" class="at">N</text>
<text x="455.80" y="116.75" text-anchor="middle" font-size="11.3" class="at">H</text>
<text x="470.90" y="80.05" text-anchor="middle" font-size="11.3" class="at">O</text>
<text x="494.30" y="121.65" text-anchor="middle" font-size="11.3" class="at">O</text>
<text x="517.70" y="80.05" text-anchor="middle" font-size="11.3" class="at">O</text>
<text x="528.20" y="106.65" font-size="11.3" class="at">OH</text>
<text x="341.6" y="142.4" class="cap" textLength="113.2" lengthAdjust="spacingAndGlyphs">E-64, iLogP = 0.94</text>
<line x1="322.40" y1="248.40" x2="336.17" y2="256.35" stroke="#262626" stroke-width="1.2" stroke-linecap="butt"/><line x1="336.17" y1="256.35" x2="336.17" y2="272.25" stroke="#262626" stroke-width="1.2" stroke-linecap="butt"/><line x1="336.17" y1="272.25" x2="322.40" y2="280.20" stroke="#262626" stroke-width="1.2" stroke-linecap="butt"/><line x1="322.40" y1="280.20" x2="308.63" y2="272.25" stroke="#262626" stroke-width="1.2" stroke-linecap="butt"/><line x1="308.63" y1="272.25" x2="308.63" y2="256.35" stroke="#262626" stroke-width="1.2" stroke-linecap="butt"/><line x1="308.63" y1="256.35" x2="322.40" y2="248.40" stroke="#262626" stroke-width="1.2" stroke-linecap="butt"/><line x1="312.28" y1="257.47" x2="321.55" y2="252.12" stroke="#262626" stroke-width="1.2" stroke-linecap="butt"/><line x1="333.37" y1="258.95" x2="333.37" y2="269.65" stroke="#262626" stroke-width="1.2" stroke-linecap="butt"/><line x1="312.28" y1="271.13" x2="321.55" y2="276.48" stroke="#262626" stroke-width="1.2" stroke-linecap="butt"/>
<line x1="308.63" y1="256.35" x2="300.48" y2="251.71" stroke="#262626" stroke-width="1.2" stroke-linecap="butt"/>
<text x="299.40" y="252.65" text-anchor="end" font-size="11.3" class="at">HO</text>
<line x1="336.17" y1="272.25" x2="349.80" y2="280.30" stroke="#262626" stroke-width="1.2" stroke-linecap="butt"/>
<line x1="349.80" y1="280.30" x2="363.30" y2="272.50" stroke="#262626" stroke-width="1.2" stroke-linecap="butt"/>
<line x1="363.30" y1="272.50" x2="370.54" y2="276.75" stroke="#262626" stroke-width="1.2" stroke-linecap="butt"/>
<line x1="382.34" y1="276.89" x2="390.20" y2="272.50" stroke="#262626" stroke-width="1.2" stroke-linecap="butt"/>
<line x1="391.30" y1="272.49" x2="391.17" y2="262.19" stroke="#262626" stroke-width="1.2" stroke-linecap="butt"/><line x1="389.10" y1="272.51" x2="388.97" y2="262.21" stroke="#262626" stroke-width="1.2" stroke-linecap="butt"/>
<line x1="391.89" y1="273.15" x2="391.49" y2="273.77" stroke="#262626" stroke-width="0.9" stroke-linecap="butt"/><line x1="393.64" y1="274.00" x2="392.99" y2="275.02" stroke="#262626" stroke-width="0.9" stroke-linecap="butt"/><line x1="395.40" y1="274.85" x2="394.49" y2="276.26" stroke="#262626" stroke-width="0.9" stroke-linecap="butt"/><line x1="397.15" y1="275.71" x2="395.99" y2="277.51" stroke="#262626" stroke-width="0.9" stroke-linecap="butt"/><line x1="398.91" y1="276.56" x2="397.48" y2="278.76" stroke="#262626" stroke-width="0.9" stroke-linecap="butt"/><line x1="400.66" y1="277.41" x2="398.98" y2="280.01" stroke="#262626" stroke-width="0.9" stroke-linecap="butt"/><line x1="402.42" y1="278.26" x2="400.48" y2="281.26" stroke="#262626" stroke-width="0.9" stroke-linecap="butt"/>
<line x1="402.60" y1="280.50" x2="419.00" y2="280.50" stroke="#262626" stroke-width="1.2" stroke-linecap="butt"/>
<line x1="402.60" y1="280.50" x2="407.48" y2="288.58" stroke="#262626" stroke-width="1.2" stroke-linecap="butt"/>
<line x1="419.00" y1="280.50" x2="414.39" y2="288.51" stroke="#262626" stroke-width="1.2" stroke-linecap="butt"/>
<polygon points="419.26,280.35 433.18,274.23 431.22,270.97" fill="#262626"/>
<line x1="433.30" y1="272.59" x2="433.23" y2="261.99" stroke="#262626" stroke-width="1.2" stroke-linecap="butt"/><line x1="431.10" y1="272.61" x2="431.03" y2="262.01" stroke="#262626" stroke-width="1.2" stroke-linecap="butt"/>
<line x1="432.20" y1="272.60" x2="439.70" y2="276.91" stroke="#262626" stroke-width="1.2" stroke-linecap="butt"/>
<line x1="451.53" y1="276.97" x2="459.30" y2="272.60" stroke="#262626" stroke-width="1.2" stroke-linecap="butt"/>
<polygon points="459.30,272.60 461.10,256.60 457.50,256.60" fill="#262626"/>
<line x1="459.30" y1="256.60" x2="472.60" y2="247.75" stroke="#262626" stroke-width="1.2" stroke-linecap="butt"/>
<line x1="486.20" y1="224.20" x2="499.80" y2="232.05" stroke="#262626" stroke-width="1.2" stroke-linecap="butt"/><line x1="499.80" y1="232.05" x2="499.80" y2="247.75" stroke="#262626" stroke-width="1.2" stroke-linecap="butt"/><line x1="499.80" y1="247.75" x2="486.20" y2="255.60" stroke="#262626" stroke-width="1.2" stroke-linecap="butt"/><line x1="486.20" y1="255.60" x2="472.60" y2="247.75" stroke="#262626" stroke-width="1.2" stroke-linecap="butt"/><line x1="472.60" y1="247.75" x2="472.60" y2="232.05" stroke="#262626" stroke-width="1.2" stroke-linecap="butt"/><line x1="472.60" y1="232.05" x2="486.20" y2="224.20" stroke="#262626" stroke-width="1.2" stroke-linecap="butt"/><line x1="476.26" y1="233.17" x2="485.35" y2="227.92" stroke="#262626" stroke-width="1.2" stroke-linecap="butt"/><line x1="497.00" y1="234.65" x2="497.00" y2="245.15" stroke="#262626" stroke-width="1.2" stroke-linecap="butt"/><line x1="476.26" y1="246.63" x2="485.35" y2="251.88" stroke="#262626" stroke-width="1.2" stroke-linecap="butt"/>
<line x1="459.30" y1="272.60" x2="473.00" y2="280.40" stroke="#262626" stroke-width="1.2" stroke-linecap="butt"/>
<line x1="471.90" y1="280.38" x2="471.71" y2="289.58" stroke="#262626" stroke-width="1.2" stroke-linecap="butt"/><line x1="474.10" y1="280.42" x2="473.91" y2="289.62" stroke="#262626" stroke-width="1.2" stroke-linecap="butt"/>
<line x1="473.00" y1="280.40" x2="480.11" y2="276.30" stroke="#262626" stroke-width="1.2" stroke-linecap="butt"/>
<line x1="491.94" y1="276.20" x2="499.50" y2="280.40" stroke="#262626" stroke-width="1.2" stroke-linecap="butt"/>
<line x1="499.50" y1="280.40" x2="512.73" y2="272.25" stroke="#262626" stroke-width="1.2" stroke-linecap="butt"/>
<line x1="526.50" y1="248.40" x2="540.27" y2="256.35" stroke="#262626" stroke-width="1.2" stroke-linecap="butt"/><line x1="540.27" y1="256.35" x2="540.27" y2="272.25" stroke="#262626" stroke-width="1.2" stroke-linecap="butt"/><line x1="540.27" y1="272.25" x2="526.50" y2="280.20" stroke="#262626" stroke-width="1.2" stroke-linecap="butt"/><line x1="526.50" y1="280.20" x2="512.73" y2="272.25" stroke="#262626" stroke-width="1.2" stroke-linecap="butt"/><line x1="512.73" y1="272.25" x2="512.73" y2="256.35" stroke="#262626" stroke-width="1.2" stroke-linecap="butt"/><line x1="512.73" y1="256.35" x2="526.50" y2="248.40" stroke="#262626" stroke-width="1.2" stroke-linecap="butt"/><line x1="516.38" y1="257.47" x2="525.65" y2="252.12" stroke="#262626" stroke-width="1.2" stroke-linecap="butt"/><line x1="537.47" y1="258.95" x2="537.47" y2="269.65" stroke="#262626" stroke-width="1.2" stroke-linecap="butt"/><line x1="516.38" y1="271.13" x2="525.65" y2="276.48" stroke="#262626" stroke-width="1.2" stroke-linecap="butt"/>
<text x="376.40" y="284.25" text-anchor="middle" font-size="11.3" class="at">N</text>
<text x="376.40" y="294.25" text-anchor="middle" font-size="11.3" class="at">H</text>
<text x="390.00" y="260.85" text-anchor="middle" font-size="11.3" class="at">O</text>
<text x="411.00" y="298.45" text-anchor="middle" font-size="11.3" class="at">O</text>
<text x="432.10" y="260.65" text-anchor="middle" font-size="11.3" class="at">O</text>
<text x="445.60" y="284.35" text-anchor="middle" font-size="11.3" class="at">N</text>
<text x="445.60" y="294.05" text-anchor="middle" font-size="11.3" class="at">H</text>
<text x="472.70" y="299.05" text-anchor="middle" font-size="11.3" class="at">O</text>
<text x="486.00" y="276.95" text-anchor="middle" font-size="11.3" class="at">N</text>
<text x="486.00" y="266.85" text-anchor="middle" font-size="11.3" class="at">H</text>
<text x="328.0" y="324.5" class="cap" textLength="144.2" lengthAdjust="spacingAndGlyphs">CAA0225, iLogP = 3.02</text>
<line x1="304.50" y1="442.80" x2="320.30" y2="451.80" stroke="#262626" stroke-width="1.2" stroke-linecap="butt"/>
<line x1="320.30" y1="451.80" x2="335.60" y2="442.80" stroke="#262626" stroke-width="1.2" stroke-linecap="butt"/>
<line x1="335.60" y1="442.80" x2="345.08" y2="448.16" stroke="#262626" stroke-width="1.2" stroke-linecap="butt"/>
<line x1="357.01" y1="448.32" x2="366.70" y2="443.20" stroke="#262626" stroke-width="1.2" stroke-linecap="butt"/>
<line x1="367.80" y1="443.18" x2="367.59" y2="430.38" stroke="#262626" stroke-width="1.2" stroke-linecap="butt"/><line x1="365.60" y1="443.22" x2="365.39" y2="430.42" stroke="#262626" stroke-width="1.2" stroke-linecap="butt"/>
<line x1="368.57" y1="443.84" x2="368.20" y2="444.48" stroke="#262626" stroke-width="0.9" stroke-linecap="butt"/><line x1="370.66" y1="444.77" x2="370.07" y2="445.81" stroke="#262626" stroke-width="0.9" stroke-linecap="butt"/><line x1="372.76" y1="445.69" x2="371.93" y2="447.15" stroke="#262626" stroke-width="0.9" stroke-linecap="butt"/><line x1="374.86" y1="446.62" x2="373.79" y2="448.48" stroke="#262626" stroke-width="0.9" stroke-linecap="butt"/><line x1="376.95" y1="447.54" x2="375.65" y2="449.82" stroke="#262626" stroke-width="0.9" stroke-linecap="butt"/><line x1="379.05" y1="448.46" x2="377.52" y2="451.15" stroke="#262626" stroke-width="0.9" stroke-linecap="butt"/><line x1="381.15" y1="449.39" x2="379.38" y2="452.49" stroke="#262626" stroke-width="0.9" stroke-linecap="butt"/>
<line x1="381.60" y1="451.70" x2="399.00" y2="451.70" stroke="#262626" stroke-width="1.2" stroke-linecap="butt"/>
<line x1="381.60" y1="451.70" x2="387.11" y2="461.65" stroke="#262626" stroke-width="1.2" stroke-linecap="butt"/>
<line x1="399.00" y1="451.70" x2="393.64" y2="461.62" stroke="#262626" stroke-width="1.2" stroke-linecap="butt"/>
<polygon points="399.26,451.55 415.43,444.66 413.57,441.34" fill="#262626"/>
<line x1="415.70" y1="443.05" x2="416.26" y2="430.45" stroke="#262626" stroke-width="1.2" stroke-linecap="butt"/><line x1="413.30" y1="442.95" x2="413.86" y2="430.34" stroke="#262626" stroke-width="1.2" stroke-linecap="butt"/>
<line x1="414.50" y1="443.00" x2="424.79" y2="448.43" stroke="#262626" stroke-width="1.2" stroke-linecap="butt"/>
<line x1="436.69" y1="448.20" x2="445.70" y2="443.00" stroke="#262626" stroke-width="1.2" stroke-linecap="butt"/>
<line x1="445.70" y1="443.00" x2="445.70" y2="423.30" stroke="#262626" stroke-width="1.2" stroke-linecap="butt"/>
<polygon points="445.44,423.16 430.71,412.93 428.89,416.27" fill="#262626"/>
<line x1="445.70" y1="423.30" x2="461.70" y2="414.60" stroke="#262626" stroke-width="1.2" stroke-linecap="butt"/>
<line x1="461.70" y1="414.60" x2="461.70" y2="396.40" stroke="#262626" stroke-width="1.2" stroke-linecap="butt"/>
<line x1="447.23" y1="441.65" x2="447.64" y2="442.35" stroke="#262626" stroke-width="0.9" stroke-linecap="butt"/><line x1="449.16" y1="440.18" x2="449.87" y2="441.42" stroke="#262626" stroke-width="0.9" stroke-linecap="butt"/><line x1="451.08" y1="438.71" x2="452.11" y2="440.49" stroke="#262626" stroke-width="0.9" stroke-linecap="butt"/><line x1="453.01" y1="437.24" x2="454.34" y2="439.56" stroke="#262626" stroke-width="0.9" stroke-linecap="butt"/><line x1="454.93" y1="435.77" x2="456.58" y2="438.62" stroke="#262626" stroke-width="0.9" stroke-linecap="butt"/>
<line x1="445.70" y1="443.00" x2="461.70" y2="451.40" stroke="#262626" stroke-width="1.2" stroke-linecap="butt"/>
<line x1="462.24" y1="452.47" x2="471.89" y2="447.56" stroke="#262626" stroke-width="1.2" stroke-linecap="butt"/><line x1="461.16" y1="450.33" x2="470.80" y2="445.42" stroke="#262626" stroke-width="1.2" stroke-linecap="butt"/>
<line x1="461.70" y1="451.40" x2="461.92" y2="465.20" stroke="#262626" stroke-width="1.2" stroke-linecap="butt"/>
<line x1="456.26" y1="474.25" x2="446.60" y2="480.40" stroke="#262626" stroke-width="1.2" stroke-linecap="butt"/>
<line x1="446.60" y1="480.40" x2="452.30" y2="498.40" stroke="#262626" stroke-width="1.2" stroke-linecap="butt"/>
<line x1="452.30" y1="498.40" x2="470.30" y2="498.40" stroke="#262626" stroke-width="1.2" stroke-linecap="butt"/>
<line x1="470.30" y1="498.40" x2="475.20" y2="480.40" stroke="#262626" stroke-width="1.2" stroke-linecap="butt"/>
<line x1="475.20" y1="480.40" x2="467.46" y2="474.65" stroke="#262626" stroke-width="1.2" stroke-linecap="butt"/>
<line x1="477.01" y1="479.50" x2="477.22" y2="480.21" stroke="#262626" stroke-width="0.9" stroke-linecap="butt"/><line x1="479.24" y1="478.62" x2="479.57" y2="479.78" stroke="#262626" stroke-width="0.9" stroke-linecap="butt"/><line x1="481.47" y1="477.74" x2="481.93" y2="479.36" stroke="#262626" stroke-width="0.9" stroke-linecap="butt"/><line x1="483.70" y1="476.86" x2="484.29" y2="478.93" stroke="#262626" stroke-width="0.9" stroke-linecap="butt"/><line x1="485.93" y1="475.98" x2="486.64" y2="478.50" stroke="#262626" stroke-width="0.9" stroke-linecap="butt"/><line x1="488.15" y1="475.10" x2="489.00" y2="478.08" stroke="#262626" stroke-width="0.9" stroke-linecap="butt"/><line x1="490.38" y1="474.22" x2="491.36" y2="477.65" stroke="#262626" stroke-width="0.9" stroke-linecap="butt"/>
<line x1="493.56" y1="475.80" x2="496.63" y2="463.73" stroke="#262626" stroke-width="1.2" stroke-linecap="butt"/><line x1="491.24" y1="475.20" x2="494.31" y2="463.14" stroke="#262626" stroke-width="1.2" stroke-linecap="butt"/>
<line x1="492.40" y1="475.50" x2="500.74" y2="484.35" stroke="#262626" stroke-width="1.2" stroke-linecap="butt"/>
<text x="351.00" y="455.55" text-anchor="middle" font-size="11.3" class="at">N</text>
<text x="351.00" y="466.75" text-anchor="middle" font-size="11.3" class="at">H</text>
<text x="366.40" y="429.05" text-anchor="middle" font-size="11.3" class="at">O</text>
<text x="390.40" y="471.65" text-anchor="middle" font-size="11.3" class="at">O</text>
<text x="415.30" y="429.05" text-anchor="middle" font-size="11.3" class="at">O</text>
<text x="430.80" y="455.65" text-anchor="middle" font-size="11.3" class="at">N</text>
<text x="430.80" y="466.15" text-anchor="middle" font-size="11.3" class="at">H</text>
<text x="461.30" y="438.05" text-anchor="middle" font-size="11.3" class="at">H</text>
<text x="477.40" y="447.45" text-anchor="middle" font-size="11.3" class="at">O</text>
<text x="462.00" y="474.65" text-anchor="middle" font-size="11.3" class="at">N</text>
<text x="496.80" y="462.25" text-anchor="middle" font-size="11.3" class="at">O</text>
<text x="501.00" y="493.35" font-size="11.3" class="at">OH</text>
<text x="341.5" y="523.0" class="cap" textLength="132.4" lengthAdjust="spacingAndGlyphs">CA-074, iLogP = 2.04</text>
</svg>
</body></html>
